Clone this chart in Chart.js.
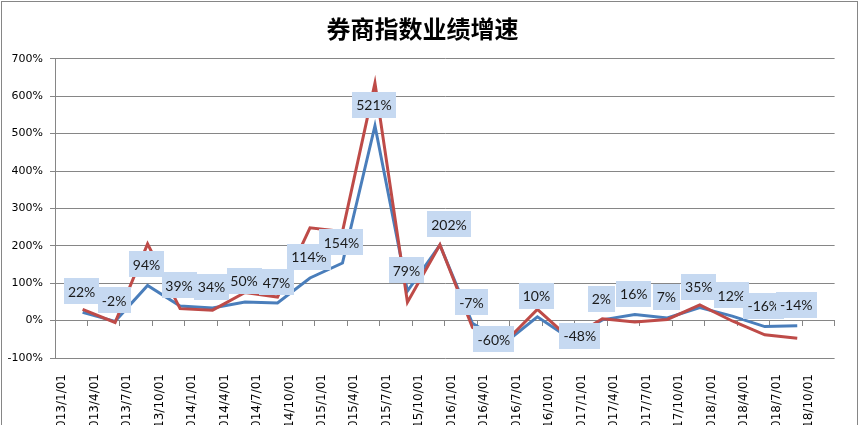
<!DOCTYPE html>
<html lang="zh">
<head>
<meta charset="utf-8" />
<script src="https://cdn.jsdelivr.net/npm/chart.js@4.4.0/dist/chart.umd.min.js"></script>
<style>
  html, body { margin: 0; padding: 0; overflow: hidden; background: #fff; }
  #marco { position: absolute; left: 1px; top: 1px; width: 857px; height: 480px; border: 1px solid #868686; box-sizing: border-box; }
  canvas { display: block; }
</style>
<title>券商指数业绩增速</title>
</head>
<body>
<div id="marco"><canvas id="grafico" width="855" height="478"></canvas></div>
<script>
const fechas = ["2013/1/01", "2013/4/01", "2013/7/01", "2013/10/01", "2014/1/01", "2014/4/01",
  "2014/7/01", "2014/10/01", "2015/1/01", "2015/4/01", "2015/7/01", "2015/10/01",
  "2016/1/01", "2016/4/01", "2016/7/01", "2016/10/01", "2017/1/01", "2017/4/01",
  "2017/7/01", "2017/10/01", "2018/1/01", "2018/4/01", "2018/7/01", "2018/10/01"];

// serie azul (con etiquetas) y serie roja
const indice = [22, -2, 94, 39, 34, 50, 47, 114, 154, 521, 79, 202, -7, -60, 10, -48, 2, 16, 7, 35, 12, -16, -14];
const otra = [30, -5, 205, 32, 28, 75, 63, 248, 238, 635, 49, 203, -18, -58, 30, -48, 5, -4, 3, 42, -1, -38, -47];

const desfase = 0.85; // los puntos caen cerca del final de cada trimestre

function puntos(serie) {
  return serie.map((v, i) => ({ x: i + desfase, y: v }));
}

// etiquetas movidas a mano en el original
const ajustes = { 11: [9, 0], 13: [-11, 17], 15: [10, 18] };

const etiquetas = {
  id: "etiquetas",
  afterDatasetsDraw(chart) {
    const ctx = chart.ctx;
    const meta = chart.getDatasetMeta(0);
    ctx.save();
    ctx.font = "14px Lato";
    ctx.textAlign = "center";
    ctx.textBaseline = "middle";
    meta.data.forEach((p, i) => {
      const txt = indice[i] + "%";
      const [dx, dy] = ajustes[i] || [-1, 0];
      const cx = p.x + dx;
      const cy = p.y - 21 + dy;
      const w = Math.round(ctx.measureText(txt).width + 8);
      ctx.fillStyle = "#c6d9f1";
      ctx.fillRect(Math.round(cx - w / 2), Math.round(cy - 13), w, 26);
      ctx.fillStyle = "#1a1a1a";
      ctx.fillText(txt, cx, cy + 1);
    });
    ctx.restore();
  }
};

new Chart(document.querySelector("#grafico").getContext("2d"), {
  type: "line",
  data: {
    datasets: [
      { label: "指数", data: puntos(indice), borderColor: "#4a7ebb", borderWidth: 3, pointRadius: 0, order: 1 },
      { label: "业绩", data: puntos(otra), borderColor: "#be4b48", borderWidth: 3, pointRadius: 0, order: 0 }
    ]
  },
  options: {
    responsive: false,
    animation: false,
    layout: { padding: { left: 0, right: 14, top: 0, bottom: 0 } },
    scales: {
      x: {
        type: "linear", position: "bottom", min: 0, max: 24,
        afterFit(s) { s.height = 122; },
        grid: { display: false },
        border: { display: false },
        ticks: {
          stepSize: 1, autoSkip: false, minRotation: 90, maxRotation: 90,
          labelOffset: 7, padding: 8, color: "#000",
          font: { family: "DejaVu Sans", size: 12 },
          callback: (v) => fechas[v] ?? ""
        }
      },
      cero: {
        type: "linear", axis: "x", position: { y: 0 }, min: 0, max: 24,
        grid: { drawOnChartArea: false, tickLength: 5, color: "#868686" },
        border: { color: "#868686" },
        ticks: { stepSize: 1, display: false }
      },
      y: {
        min: -100, max: 700,
        afterFit(s) { s.width = 53; },
        grid: { color: "#868686", tickLength: 5 },
        border: { color: "#868686" },
        ticks: {
          stepSize: 100, padding: 7, color: "#000",
          font: { family: "DejaVu Sans", size: 11 },
          callback: (v) => v + "%"
        }
      }
    },
    plugins: {
      legend: { display: false },
      tooltip: { enabled: false },
      title: {
        display: true, text: "券商指数业绩增速", color: "#000",
        font: { family: "'Noto Sans CJK SC'", size: 24, weight: "bold" },
        padding: { top: 12, bottom: 16 }
      }
    }
  },
  plugins: [etiquetas]
});
</script>
</body>
</html>
